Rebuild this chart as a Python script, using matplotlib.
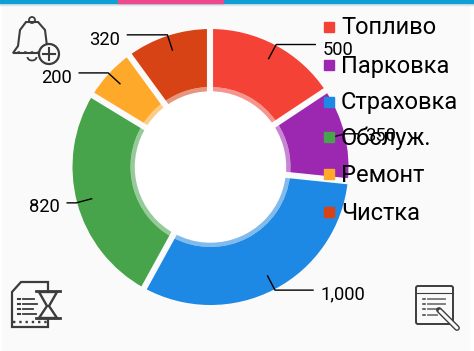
import numpy as np
import matplotlib
matplotlib.use('Agg')
import matplotlib.pyplot as plt
from matplotlib.patches import Rectangle, Circle, Polygon, FancyBboxPatch, Arc

plt.rcParams['font.family'] = ['Roboto', 'DejaVu Sans']

# data
categories = ['Топливо', 'Парковка', 'Страховка', 'Обслуж.', 'Ремонт', 'Чистка']
values = [500, 350, 1000, 820, 200, 320]
value_labels = ['500', '350', '1,000', '820', '200', '320']
colors = ['#F44336', '#9C27B0', '#1E88E5', '#47A44B', '#FFA92B', '#D84315']

# leader line: horizontal length and text drop, pixels
leader_len = [39, 13, 38, 9, 29, 40]
label_drop = [5, 2, 4, 4, 5, 5]
legend_y = [27, 65, 102, 137, 174, 212]

W, H = 474, 351
cx, cy = 210.5, 167
R_OUT, R_RING, R_HOLE = 138, 80, 75
BG = '#FAFAFA'
ICON = '#3C3C3C'


def fy(y):
    # picture y (from the top) to axes y
    return H - y


fig = plt.figure(figsize=(W / 100, H / 100), dpi=100, facecolor='white')
ax = fig.add_axes([0, 0, 1, 1])

# 배경
ax.add_patch(Rectangle((2, 0), 467, H - 4, color=BG, zorder=0))
ax.add_patch(Rectangle((0, fy(3)), W, 3, color='#0E9FD6', zorder=6))
ax.add_patch(Rectangle((118, fy(3)), 105, 3, color='#EC4A8C', zorder=7))
ax.add_patch(Rectangle((0, fy(5)), W, 2, color='#E4E4E4', zorder=5))

# donut
wedges, _ = ax.pie(values, colors=colors, startangle=90, counterclock=False,
                   center=(cx, fy(cy)), radius=R_OUT,
                   wedgeprops={'width': R_OUT - R_RING, 'linewidth': 0}, frame=True)
ax.pie(values, colors=colors, startangle=90, counterclock=False,
       center=(cx, fy(cy)), radius=R_RING,
       wedgeprops={'width': R_RING - R_HOLE, 'linewidth': 0, 'alpha': 0.55}, frame=True)

# slice gaps
for w in wedges:
    a = np.deg2rad(w.theta1)
    ax.plot([cx + 70 * np.cos(a), cx + (R_OUT + 4) * np.cos(a)],
            [fy(cy) + 70 * np.sin(a), fy(cy) + (R_OUT + 4) * np.sin(a)],
            color=BG, lw=4.4, solid_capstyle='butt', zorder=3)
ax.add_patch(Circle((cx, fy(cy)), R_HOLE, color='white', zorder=4))

# value labels
for w, lab, ln, drop in zip(wedges, value_labels, leader_len, label_drop):
    a = np.deg2rad((w.theta1 + w.theta2) / 2)
    x0, y0 = cx + 123 * np.cos(a), fy(cy) + 123 * np.sin(a)
    x1, y1 = cx + 139 * np.cos(a), fy(cy) + 139 * np.sin(a)
    side = 1 if np.cos(a) >= 0 else -1
    x2 = x1 + side * ln
    ax.plot([x0, x1, x2], [y0, y1, y1], color='black', lw=1.0, zorder=8)
    ax.text(x2 + side * 7, y1 - drop, lab, fontsize=13.2, color='black', zorder=8,
            ha='left' if side > 0 else 'right', va='center')

# legend
for name, col, ly in zip(categories, colors, legend_y):
    ax.add_patch(Rectangle((324, fy(ly + 5)), 10, 10, color=col, zorder=9))
    ax.text(341, fy(ly + 1), name, fontsize=17, color='black', va='center', ha='left', zorder=9)

# bell icon
ax.add_patch(Polygon([(13, fy(53)), (18, fy(46)), (20, fy(30)), (26, fy(22)), (38, fy(22)),
                      (45, fy(30)), (47, fy(46)), (50, fy(53))], closed=True,
                     fc='none', ec=ICON, lw=1.5, zorder=2))
ax.add_patch(Circle((32, fy(20)), 3, fc='none', ec=ICON, lw=1.3, zorder=2))
ax.plot([17, 44], [fy(52), fy(52)], color=ICON, lw=1.8, ls=':', zorder=2)
ax.add_patch(Arc((32, fy(57)), 9, 7, theta1=180, theta2=360, ec=ICON, lw=1.3, zorder=2))
ax.add_patch(Circle((49, fy(54)), 10, fc=BG, ec=ICON, lw=1.6, zorder=3))
ax.plot([43, 55], [fy(54), fy(54)], color=ICON, lw=1.5, zorder=3)
ax.plot([49, 49], [fy(48), fy(60)], color=ICON, lw=1.5, zorder=3)

# document with hourglass icon
ax.add_patch(Polygon([(12, fy(292)), (21, fy(282)), (48, fy(282)), (48, fy(327)), (12, fy(327))],
                     closed=True, fc='none', ec=ICON, lw=1.6, zorder=2))
ax.plot([13, 47], [fy(322), fy(322)], color=ICON, lw=1.7, ls=':', zorder=2)
for ty, tx in zip([299, 304, 309, 314], [34, 37, 33, 36]):
    ax.plot([18, 20], [fy(ty), fy(ty)], color=ICON, lw=1.5, zorder=2)
    ax.plot([23, tx], [fy(ty), fy(ty)], color=ICON, lw=1.3, zorder=2)
ax.add_patch(Polygon([(39, fy(292)), (57, fy(292)), (49, fy(306)), (57, fy(318)), (39, fy(318)), (47, fy(306))],
                     closed=True, fc=BG, ec=ICON, lw=1.7, zorder=3))
ax.plot([36, 60], [fy(291), fy(291)], color=ICON, lw=2.0, zorder=3)
ax.plot([36, 60], [fy(318), fy(318)], color=ICON, lw=2.0, zorder=3)

# notepad with pencil icon
ax.add_patch(FancyBboxPatch((416, fy(324)), 37, 38, boxstyle='round,pad=0,rounding_size=2',
                            fc='none', ec=ICON, lw=1.4, zorder=2))
ax.plot([416, 453], [fy(293), fy(293)], color=ICON, lw=0.8, zorder=2)
for ty, tx in zip([299, 304, 309, 315], [445, 445, 437, 437]):
    ax.plot([423, 425], [fy(ty), fy(ty)], color=ICON, lw=1.1, zorder=2)
    ax.plot([428, tx], [fy(ty), fy(ty)], color='#777777', lw=1.3, zorder=2)
ax.plot([439, 457], [fy(310), fy(328)], color=ICON, lw=4.2, solid_capstyle='round', zorder=3)
ax.plot([440, 457], [fy(311), fy(328)], color=BG, lw=2.2, solid_capstyle='round', zorder=3)

ax.set_xlim(0, W)
ax.set_ylim(0, H)
ax.set_aspect('auto')
ax.axis('off')

fig.savefig('out.png', dpi=100, facecolor='white')
